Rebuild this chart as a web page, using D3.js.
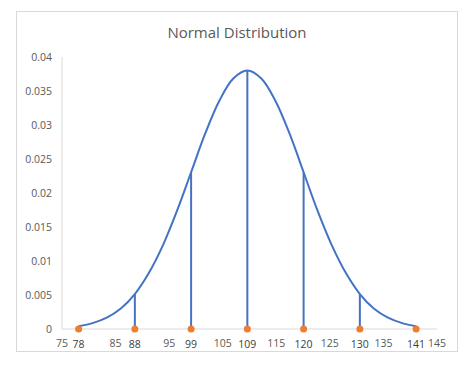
<!DOCTYPE html>
<html><head><meta charset="utf-8">
<script src="https://cdn.jsdelivr.net/npm/d3@7"></script>
<style>body{margin:0;background:#fff;}svg{display:block;font-family:"Open Sans",sans-serif;}</style>
</head><body><svg id="c" width="474" height="370"></svg>
<script>
const title = "Normal Distribution";
const curveX = [78.1,80.7,83.35,85.98,88.6,91.2,93.85,96.48,99.1,101.7,104.35,106.98,109.6,112.2,114.85,117.5,120.1,122.7,125.35,128,130.6,133.2,135.85,138.5,141.1];
const curveY = [0.00042,0.00087,0.00167,0.00302,0.00514,0.00822,0.01234,0.0174,0.02305,0.02868,0.03353,0.03683,0.038,0.03683,0.03353,0.02868,0.02305,0.0174,0.01234,0.00822,0.00514,0.00302,0.00167,0.00087,0.00042];
const pointX = [78.1,88.6,99.1,109.6,120.1,130.6,141.1];
const pointLabels = ["78","88","99","109","120","130","141"];
const dropX = [88.6,99.1,109.6,120.1,130.6];
const dropY = [0.00514,0.02305,0.038,0.02305,0.00514];
const xTicks = [75,85,95,105,115,125,135,145];
const yTicks = [0,0.005,0.01,0.015,0.02,0.025,0.03,0.035,0.04];
const yTickLabels = ["0","0.005","0.01","0.015","0.02","0.025","0.03","0.035","0.04"];

const svg = d3.select("#c");
svg.append("rect").attr("x",16.5).attr("y",11.5).attr("width",441).attr("height",340)
  .attr("fill","#fff").attr("stroke","#d9d9d9");
const x = d3.scaleLinear().domain([75,145]).range([62,437]);
const y = d3.scaleLinear().domain([0,0.04]).range([329,57]);

svg.append("text").attr("x",237).attr("y",38).attr("text-anchor","middle")
  .attr("font-size",15).attr("fill","#595959").text(title);

// axes lines
svg.append("line").attr("x1",x(75)).attr("x2",x(75)).attr("y1",y(0.04)).attr("y2",y(0)).attr("stroke","#d9d9d9");
svg.append("line").attr("x1",x(75)).attr("x2",x(145)).attr("y1",y(0)).attr("y2",y(0)).attr("stroke","#d9d9d9");

svg.selectAll(".yt").data(yTicks).enter().append("text")
  .attr("x",52).attr("y",d=>y(d)+4).attr("text-anchor","end")
  .attr("font-size",10.5).attr("fill","#595959").text((d,i)=>yTickLabels[i]);
svg.selectAll(".xt").data(xTicks).enter().append("text")
  .attr("x",d=>x(d)).attr("y",347).attr("text-anchor","middle")
  .attr("font-size",10.5).attr("fill","#595959").text(d=>d);

// curve
const pts = curveX.map((v,i)=>[v,curveY[i]]);
svg.append("path").datum(pts)
  .attr("d",d3.line().x(d=>x(d[0])).y(d=>y(d[1])).curve(d3.curveCatmullRom))
  .attr("fill","none").attr("stroke","#4472c4").attr("stroke-width",2);

// drop lines
svg.selectAll(".drop").data(dropX).enter().append("line")
  .attr("x1",d=>x(d)).attr("x2",d=>x(d)).attr("y1",y(0)).attr("y2",(d,i)=>y(dropY[i]))
  .attr("stroke","#4472c4").attr("stroke-width",2);

// points
svg.selectAll(".pt").data(pointX).enter().append("circle")
  .attr("cx",d=>x(d)).attr("cy",y(0)).attr("r",3.5).attr("fill","#ed7d31");
svg.selectAll(".pl").data(pointX).enter().append("text")
  .attr("x",d=>x(d)).attr("y",348).attr("text-anchor","middle")
  .attr("font-size",10.5).attr("fill","#404040").text((d,i)=>pointLabels[i]);
</script></body></html>
